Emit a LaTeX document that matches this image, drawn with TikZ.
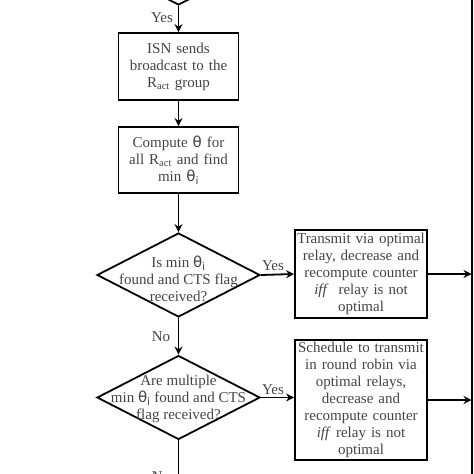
\documentclass[tikz,border=0pt]{standalone}
\usepackage{fontspec}
\setmainfont{Liberation Serif}
\newfontfamily\thf{DejaVu Sans}
\usetikzlibrary{shapes.geometric,arrows.meta}
\definecolor{txt}{HTML}{444444}
\newcommand{\thetaT}{{\thf θ}}
\newcommand{\thetaI}{{\thf θ\textsubscript{i}}}
\newcommand{\Ract}{R\textsubscript{act}}
\begin{document}
\begin{tikzpicture}[x=1pt,y=-1pt,
  box/.style={draw=black, line width=1.8pt, align=center, inner sep=0pt, font=\fontsize{15}{17}\selectfont, text=txt},
  dia/.style={draw=black, diamond, minimum width=163pt, minimum height=84pt, line width=1.8pt, inner sep=0pt},
  lbl/.style={font=\fontsize{15}{17}\selectfont, text=txt, align=center, inner sep=0pt},
  arr/.style={-{Stealth[length=8pt,width=8pt]}, line width=1.8pt}]
\useasboundingbox (0,0) rectangle (474,474);
\clip (0,0) rectangle (474,474);
\node[dia] (d0) at (178.5,-37) {};
\node[box, minimum width=120pt, minimum height=67pt, text width=118pt] (b1) at (178.5,66.5) {ISN sends\\broadcast to the\\\Ract{} group};
\node[box, minimum width=120pt, minimum height=66pt, text width=118pt] (b2) at (178.5,160) {Compute \thetaT{} for\\all \Ract{} and find\\min \thetaI};
\node[dia] (d1) at (178.5,275) {};
\node[lbl] (d1t) at (178.5,279) {Is min \thetaI\\found and CTS flag\\received?};
\node[dia] (d2) at (178.5,397.5) {};
\node[lbl] (d2t) at (178.5,399) {Are multiple\\min \thetaI{} found and CTS\\flag received?};
\node[box, minimum width=132pt, minimum height=88pt, text width=130pt] (r1) at (361,274) {Transmit via optimal\\relay, decrease and\\recompute counter\\\textit{iff}\ \ relay is not\\optimal};
\node[box, minimum width=132pt, minimum height=120pt, text width=130pt] (r2) at (361,400) {Schedule to transmit\\in round robin via\\optimal relays,\\decrease and\\recompute counter\\\textit{iff} relay is not\\optimal};
\coordinate (vt) at (471.5,0);
\coordinate (vb) at (471.5,474);
\coordinate (bot) at (178.5,474);
\draw[line width=2pt] (vt) -- (vb);
\draw[arr] (d0.south) -- (b1.north);
\node[lbl] (y0) at (162,18) {Yes};
\draw[arr] (b1.south) -- (b2.north);
\draw[arr] (b2.south) -- (d1.north);
\draw[arr] (d1.south) -- (d2.north);
\node[lbl] (n1) at (161,337) {No};
\draw[arr] (d1.east) -- (r1.west);
\node[lbl] (y1) at (273,266) {Yes};
\draw[arr] (d2.east) -- (r2.west |- d2.east);
\node[lbl] (y2) at (273,390) {Yes};
\draw[arr] (r1.east) -- (r1.east -| vt);
\draw[arr] (r2.east) -- (r2.east -| vt);
\draw[line width=1.8pt] (d2.south) -- (bot);
\node[lbl] (n2) at (161,477) {No};
\end{tikzpicture}
\end{document}
